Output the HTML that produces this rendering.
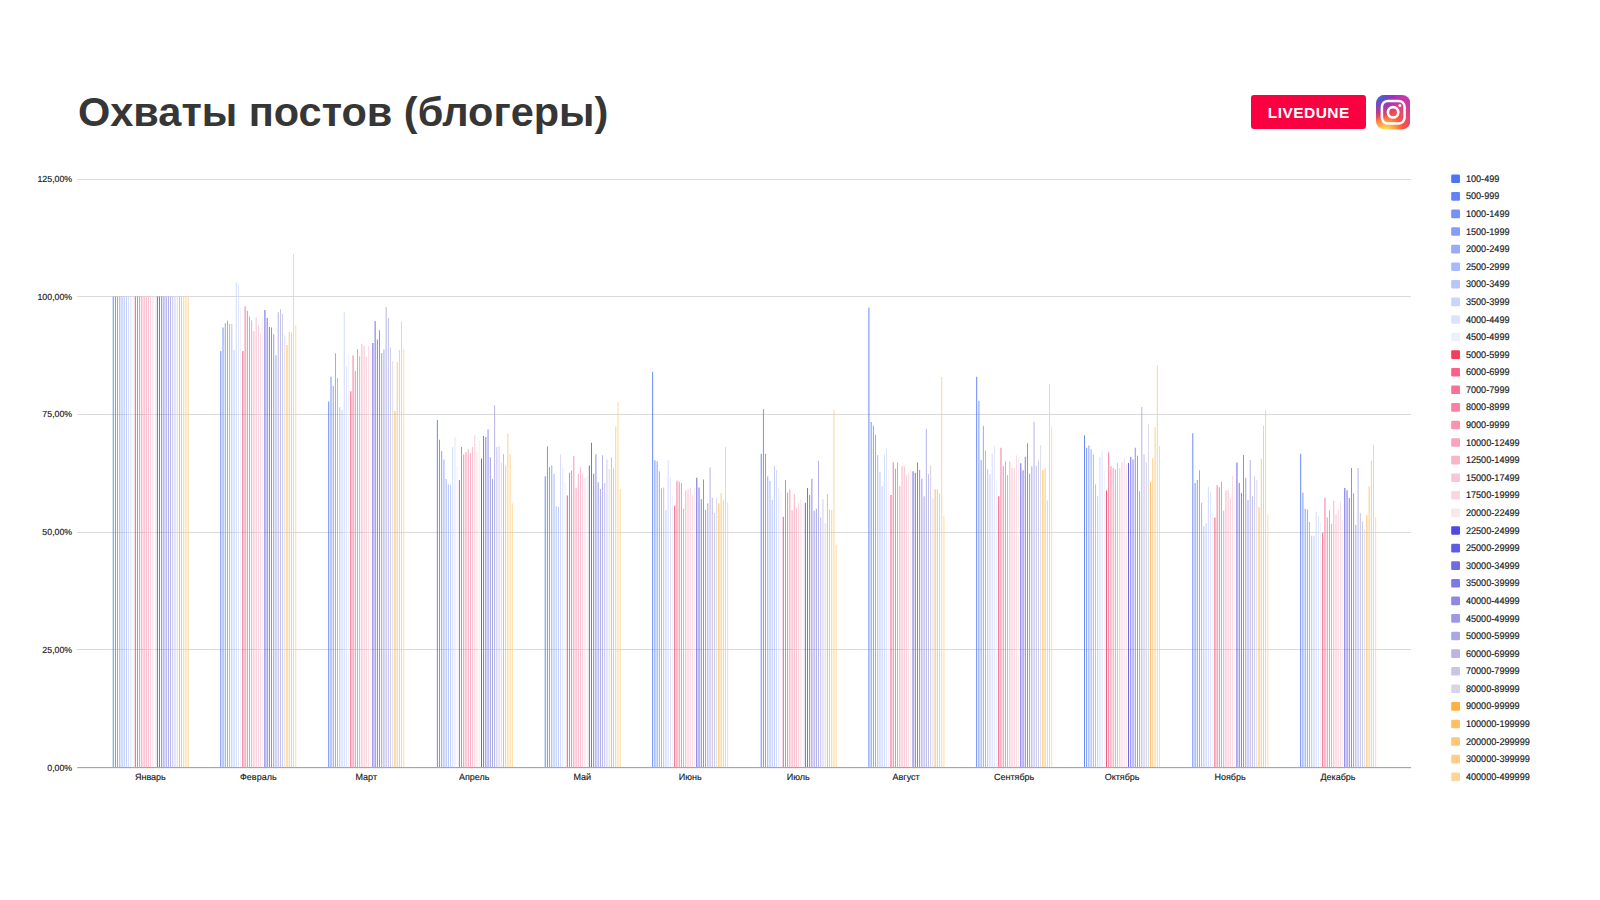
<!DOCTYPE html>
<html lang="ru"><head><meta charset="utf-8"><title>Охваты постов (блогеры)</title>
<style>
html,body{margin:0;padding:0;background:#fff;}
body{width:1600px;height:900px;position:relative;overflow:hidden;font-family:"Liberation Sans",Arial,sans-serif;}
h1{position:absolute;left:78px;top:86px;margin:0;font-family:"Liberation Sans",Arial,sans-serif;font-weight:700;font-size:41.5px;line-height:52px;color:#363636;white-space:nowrap;letter-spacing:0px;}
.badge{position:absolute;left:1251px;top:95.4px;width:115px;height:34px;background:#fa0041;border-radius:3px;color:#fff;font-family:"Liberation Sans",Arial,sans-serif;font-weight:700;font-size:15.5px;line-height:34px;text-align:center;letter-spacing:0.45px;padding-top:0.6px;padding-left:0.5px;box-sizing:border-box;}
.ig{position:absolute;left:1375.5px;top:95px;width:34.5px;height:34.5px;}
svg.chart{position:absolute;left:0;top:0;text-rendering:geometricPrecision;}
.yl{font-size:8.8px;fill:#1a1a1a;stroke:#1a1a1a;stroke-width:0.15px;text-anchor:end;font-family:"Liberation Sans",Arial,sans-serif;}
.xl{font-size:9px;fill:#1a1a1a;stroke:#1a1a1a;stroke-width:0.15px;text-anchor:middle;font-family:"Liberation Sans",Arial,sans-serif;}
.lg{font-size:9.15px;fill:#1a1a1a;stroke:#1a1a1a;stroke-width:0.15px;font-family:"Liberation Sans",Arial,sans-serif;}
</style></head>
<body>
<h1>Охваты постов (блогеры)</h1>
<div class="badge">LIVEDUNE</div>
<svg class="ig" viewBox="0 0 34.5 34.5" width="34.5" height="34.5">
<defs>
<radialGradient id="iga" cx="0.27" cy="1.08" r="1.05">
<stop offset="0" stop-color="#ffdd55"/>
<stop offset="0.1" stop-color="#ffdd55"/>
<stop offset="0.5" stop-color="#ff543e"/>
<stop offset="1" stop-color="#c837ab"/>
</radialGradient>
<radialGradient id="igb" cx="0.0" cy="0.0" r="0.75">
<stop offset="0" stop-color="#3771c8"/>
<stop offset="0.13" stop-color="#3771c8"/>
<stop offset="1" stop-color="#6600ff" stop-opacity="0"/>
</radialGradient>
</defs>
<rect x="0" y="0" width="34.5" height="34.5" rx="8.5" fill="url(#iga)"/>
<rect x="0" y="0" width="34.5" height="34.5" rx="8.5" fill="url(#igb)"/>
<rect x="5.9" y="5.9" width="22.7" height="22.7" rx="6" fill="none" stroke="#fff" stroke-width="2.5"/>
<circle cx="17.1" cy="17.3" r="5.2" fill="none" stroke="#fff" stroke-width="2.6"/>
<circle cx="23.9" cy="10.6" r="1.5" fill="#fff"/>
</svg>
<svg class="chart" width="1600" height="900" viewBox="0 0 1600 900">
<rect x="77.2" y="649" width="1333.8" height="1" fill="#dadada"/>
<rect x="77.2" y="532" width="1333.8" height="1" fill="#dadada"/>
<rect x="77.2" y="414" width="1333.8" height="1" fill="#dadada"/>
<rect x="77.2" y="296" width="1333.8" height="1" fill="#dadada"/>
<rect x="77.2" y="179" width="1333.8" height="1" fill="#dadada"/>
<text transform="translate(72.2 771) scale(1 1.0)" class="yl">0,00%</text>
<text transform="translate(72.2 652.9) scale(1 1.0)" class="yl">25,00%</text>
<text transform="translate(72.2 535) scale(1 1.0)" class="yl">50,00%</text>
<text transform="translate(72.2 417.3) scale(1 1.0)" class="yl">75,00%</text>
<text transform="translate(72.2 299.9) scale(1 1.0)" class="yl">100,00%</text>
<text transform="translate(72.2 182) scale(1 1.0)" class="yl">125,00%</text>
<g>
<path fill="#4d75f3" d="M112.77 296.5h0.85V767h-0.85zM220.39 350.9h0.85V767h-0.85zM328.36 401.6h0.85V767h-0.85zM436.88 420h0.85V767h-0.85zM544.76 476.3h0.85V767h-0.85zM652.28 371.7h0.85V767h-0.85zM760.75 453.8h0.85V767h-0.85zM868.51 307.8h0.85V767h-0.85zM976.29 376.7h0.85V767h-0.85zM1084.06 435.3h0.85V767h-0.85zM1192.42 433.3h0.85V767h-0.85zM1300.3 453.8h0.85V767h-0.85z"/>
<path fill="#6283f5" d="M114.98 296.5h0.85V767h-0.85zM222.6 327.6h0.85V767h-0.85zM330.57 376.7h0.85V767h-0.85zM439.09 439.7h0.85V767h-0.85zM546.96 446.3h0.85V767h-0.85zM654.48 460.3h0.85V767h-0.85zM762.95 409.2h0.85V767h-0.85zM870.72 422h0.85V767h-0.85zM978.49 400.8h0.85V767h-0.85zM1086.26 447.8h0.85V767h-0.85zM1194.63 483h0.85V767h-0.85zM1302.5 492.8h0.85V767h-0.85z"/>
<path fill="#7391f6" d="M117.19 296.5h0.85V767h-0.85zM224.81 323.3h0.85V767h-0.85zM332.78 385.9h0.85V767h-0.85zM441.3 450.9h0.85V767h-0.85zM549.17 467h0.85V767h-0.85zM656.69 461.2h0.85V767h-0.85zM765.16 453.8h0.85V767h-0.85zM872.93 425.8h0.85V767h-0.85zM980.7 460h0.85V767h-0.85zM1088.47 445.5h0.85V767h-0.85zM1196.84 480h0.85V767h-0.85zM1304.71 508.7h0.85V767h-0.85z"/>
<path fill="#849ef7" d="M119.39 296.5h0.85V767h-0.85zM227.01 320.4h0.85V767h-0.85zM334.98 353.2h0.85V767h-0.85zM443.5 459.6h0.85V767h-0.85zM551.37 465.4h0.85V767h-0.85zM658.89 471.2h0.85V767h-0.85zM767.36 476.3h0.85V767h-0.85zM875.13 434.7h0.85V767h-0.85zM982.9 425.8h0.85V767h-0.85zM1090.67 449.2h0.85V767h-0.85zM1199.04 470.3h0.85V767h-0.85zM1306.91 509.5h0.85V767h-0.85z"/>
<path fill="#96acf8" d="M121.6 296.5h0.85V767h-0.85zM229.22 324h0.85V767h-0.85zM337.19 378h0.85V767h-0.85zM445.71 478.9h0.85V767h-0.85zM553.58 473.7h0.85V767h-0.85zM661.1 488.3h0.85V767h-0.85zM769.57 480.8h0.85V767h-0.85zM877.34 455h0.85V767h-0.85zM985.11 450.8h0.85V767h-0.85zM1092.88 454.5h0.85V767h-0.85zM1201.25 502.8h0.85V767h-0.85zM1309.12 522h0.85V767h-0.85z"/>
<path fill="#a7baf9" d="M123.8 296.5h0.85V767h-0.85zM231.42 324h0.85V767h-0.85zM339.39 407.3h0.85V767h-0.85zM447.91 484.2h0.85V767h-0.85zM555.79 506.3h0.85V767h-0.85zM663.31 487.5h0.85V767h-0.85zM771.77 500h0.85V767h-0.85zM879.54 472h0.85V767h-0.85zM987.32 469.2h0.85V767h-0.85zM1095.09 484.2h0.85V767h-0.85zM1203.45 526.2h0.85V767h-0.85zM1311.33 535.8h0.85V767h-0.85z"/>
<path fill="#b8c7fa" d="M126.01 296.5h0.85V767h-0.85zM233.63 349.9h0.85V767h-0.85zM341.6 409.8h0.85V767h-0.85zM450.12 485h0.85V767h-0.85zM557.99 507h0.85V767h-0.85zM665.51 510h0.85V767h-0.85zM773.98 465.8h0.85V767h-0.85zM881.75 486.2h0.85V767h-0.85zM989.52 474.2h0.85V767h-0.85zM1097.29 496.2h0.85V767h-0.85zM1205.66 523.3h0.85V767h-0.85zM1313.53 535.8h0.85V767h-0.85z"/>
<path fill="#cad5fb" d="M128.22 296.5h0.85V767h-0.85zM235.84 282.3h0.85V767h-0.85zM343.81 312h0.85V767h-0.85zM452.33 446.9h0.85V767h-0.85zM560.2 454.6h0.85V767h-0.85zM667.72 460.3h0.85V767h-0.85zM776.19 470h0.85V767h-0.85zM883.96 454.5h0.85V767h-0.85zM991.73 453.8h0.85V767h-0.85zM1099.5 457.2h0.85V767h-0.85zM1207.87 486.7h0.85V767h-0.85zM1315.74 512h0.85V767h-0.85z"/>
<path fill="#dbe2fc" d="M130.42 296.5h0.85V767h-0.85zM238.04 284.3h0.85V767h-0.85zM346.01 366.5h0.85V767h-0.85zM454.53 437h0.85V767h-0.85zM562.4 468.3h0.85V767h-0.85zM669.92 477.5h0.85V767h-0.85zM778.39 487.5h0.85V767h-0.85zM886.16 448h0.85V767h-0.85zM993.93 445.8h0.85V767h-0.85zM1101.7 451.2h0.85V767h-0.85zM1210.07 492.5h0.85V767h-0.85zM1317.94 515.5h0.85V767h-0.85z"/>
<path fill="#ecf0fd" d="M132.63 296.5h0.85V767h-0.85zM240.25 307.6h0.85V767h-0.85zM348.22 353.2h0.85V767h-0.85zM456.74 466.6h0.85V767h-0.85zM564.61 482.3h0.85V767h-0.85zM672.13 496.7h0.85V767h-0.85zM780.6 492.5h0.85V767h-0.85zM888.37 470.8h0.85V767h-0.85zM996.14 480.8h0.85V767h-0.85zM1103.91 470.5h0.85V767h-0.85zM1212.28 509.2h0.85V767h-0.85zM1320.15 522.8h0.85V767h-0.85z"/>
<path fill="#f43d5e" d="M134.83 296.5h0.85V767h-0.85zM242.45 350.9h0.85V767h-0.85zM350.42 391.2h0.85V767h-0.85zM458.94 480h0.85V767h-0.85zM566.82 495.6h0.85V767h-0.85zM674.34 505.8h0.85V767h-0.85zM782.8 516.7h0.85V767h-0.85zM890.57 495h0.85V767h-0.85zM998.35 496.2h0.85V767h-0.85zM1106.12 490.5h0.85V767h-0.85zM1214.48 517.5h0.85V767h-0.85zM1322.36 532.8h0.85V767h-0.85z"/>
<path fill="#f9608b" d="M137.04 296.5h0.85V767h-0.85zM244.66 306.3h0.85V767h-0.85zM352.63 355.4h0.85V767h-0.85zM461.15 446.9h0.85V767h-0.85zM569.02 472.7h0.85V767h-0.85zM676.54 480.8h0.85V767h-0.85zM785.01 480h0.85V767h-0.85zM892.78 462.5h0.85V767h-0.85zM1000.55 447.8h0.85V767h-0.85zM1108.32 452.2h0.85V767h-0.85zM1216.69 485.3h0.85V767h-0.85zM1324.56 497.8h0.85V767h-0.85z"/>
<path fill="#f97197" d="M139.25 296.5h0.85V767h-0.85zM246.87 310.7h0.85V767h-0.85zM354.84 371h0.85V767h-0.85zM463.36 454.4h0.85V767h-0.85zM571.23 470.6h0.85V767h-0.85zM678.75 481.7h0.85V767h-0.85zM787.22 492.5h0.85V767h-0.85zM894.99 468.8h0.85V767h-0.85zM1002.76 466.2h0.85V767h-0.85zM1110.53 466.2h0.85V767h-0.85zM1218.9 487.2h0.85V767h-0.85zM1326.77 517.5h0.85V767h-0.85z"/>
<path fill="#f982a3" d="M141.45 296.5h0.85V767h-0.85zM249.07 316.5h0.85V767h-0.85zM357.04 349h0.85V767h-0.85zM465.56 452.2h0.85V767h-0.85zM573.43 455.9h0.85V767h-0.85zM680.95 483h0.85V767h-0.85zM789.42 489.2h0.85V767h-0.85zM897.19 462.5h0.85V767h-0.85zM1004.96 461.2h0.85V767h-0.85zM1112.73 468h0.85V767h-0.85zM1221.1 481.7h0.85V767h-0.85zM1328.97 510.3h0.85V767h-0.85z"/>
<path fill="#f993af" d="M143.66 296.5h0.85V767h-0.85zM251.28 320.3h0.85V767h-0.85zM359.25 356.3h0.85V767h-0.85zM467.77 449.3h0.85V767h-0.85zM575.64 487.9h0.85V767h-0.85zM683.16 508.7h0.85V767h-0.85zM791.63 510h0.85V767h-0.85zM899.4 486.2h0.85V767h-0.85zM1007.17 475h0.85V767h-0.85zM1114.94 469.2h0.85V767h-0.85zM1223.31 510.8h0.85V767h-0.85zM1331.18 523.7h0.85V767h-0.85z"/>
<path fill="#f8a4bc" d="M145.86 296.5h0.85V767h-0.85zM253.48 331.3h0.85V767h-0.85zM361.45 343.9h0.85V767h-0.85zM469.97 453h0.85V767h-0.85zM577.85 474h0.85V767h-0.85zM685.37 490.3h0.85V767h-0.85zM793.84 494.2h0.85V767h-0.85zM901.61 466.2h0.85V767h-0.85zM1009.38 461.2h0.85V767h-0.85zM1117.14 463h0.85V767h-0.85zM1225.51 490.5h0.85V767h-0.85zM1333.38 500.8h0.85V767h-0.85z"/>
<path fill="#f8b5c8" d="M148.07 296.5h0.85V767h-0.85zM255.69 317.3h0.85V767h-0.85zM363.66 346h0.85V767h-0.85zM472.18 446.9h0.85V767h-0.85zM580.05 467h0.85V767h-0.85zM687.57 489.2h0.85V767h-0.85zM796.04 508h0.85V767h-0.85zM903.81 466.2h0.85V767h-0.85zM1011.58 468h0.85V767h-0.85zM1119.35 468.3h0.85V767h-0.85zM1227.72 489.7h0.85V767h-0.85zM1335.59 514.2h0.85V767h-0.85z"/>
<path fill="#f8c6d4" d="M150.28 296.5h0.85V767h-0.85zM257.9 324.7h0.85V767h-0.85zM365.87 356.7h0.85V767h-0.85zM474.39 435.3h0.85V767h-0.85zM582.26 473.4h0.85V767h-0.85zM689.78 488h0.85V767h-0.85zM798.25 502.8h0.85V767h-0.85zM906.02 475h0.85V767h-0.85zM1013.79 468h0.85V767h-0.85zM1121.56 462h0.85V767h-0.85zM1229.93 498h0.85V767h-0.85zM1337.8 509.5h0.85V767h-0.85z"/>
<path fill="#f8d7e0" d="M152.48 296.5h0.85V767h-0.85zM260.1 333.3h0.85V767h-0.85zM368.07 346h0.85V767h-0.85zM476.59 452.4h0.85V767h-0.85zM584.46 477.9h0.85V767h-0.85zM691.98 495h0.85V767h-0.85zM800.45 499.2h0.85V767h-0.85zM908.22 472.5h0.85V767h-0.85zM1015.99 455.3h0.85V767h-0.85zM1123.76 458.3h0.85V767h-0.85zM1232.13 475.8h0.85V767h-0.85zM1340 501.7h0.85V767h-0.85z"/>
<path fill="#f8e8ec" d="M154.69 296.5h0.85V767h-0.85zM262.31 317.6h0.85V767h-0.85zM370.28 350.3h0.85V767h-0.85zM478.8 440.6h0.85V767h-0.85zM586.67 476.3h0.85V767h-0.85zM694.19 487.5h0.85V767h-0.85zM802.66 500.8h0.85V767h-0.85zM910.43 469.2h0.85V767h-0.85zM1018.2 457.5h0.85V767h-0.85zM1125.97 464.2h0.85V767h-0.85zM1234.34 486.7h0.85V767h-0.85zM1342.21 520h0.85V767h-0.85z"/>
<path fill="#4f49e2" d="M156.89 296.5h0.85V767h-0.85zM264.51 310h0.85V767h-0.85zM372.48 343h0.85V767h-0.85zM481 458.6h0.85V767h-0.85zM588.88 465.6h0.85V767h-0.85zM696.4 477.8h0.85V767h-0.85zM804.87 502.8h0.85V767h-0.85zM912.63 471.3h0.85V767h-0.85zM1020.41 463.3h0.85V767h-0.85zM1128.17 463h0.85V767h-0.85zM1236.54 462.5h0.85V767h-0.85zM1344.41 488h0.85V767h-0.85z"/>
<path fill="#615be3" d="M159.1 296.5h0.85V767h-0.85zM266.72 318h0.85V767h-0.85zM374.69 321h0.85V767h-0.85zM483.21 436h0.85V767h-0.85zM591.08 442.7h0.85V767h-0.85zM698.6 487.5h0.85V767h-0.85zM807.07 488h0.85V767h-0.85zM914.84 472.8h0.85V767h-0.85zM1022.61 470.3h0.85V767h-0.85zM1130.38 456.7h0.85V767h-0.85zM1238.75 483h0.85V767h-0.85zM1346.62 490.3h0.85V767h-0.85z"/>
<path fill="#706ae3" d="M161.31 296.5h0.85V767h-0.85zM268.93 326.9h0.85V767h-0.85zM376.9 339.4h0.85V767h-0.85zM485.42 436.9h0.85V767h-0.85zM593.29 473.7h0.85V767h-0.85zM700.81 499.2h0.85V767h-0.85zM809.28 495h0.85V767h-0.85zM917.05 462.5h0.85V767h-0.85zM1024.82 456.7h0.85V767h-0.85zM1132.59 459.5h0.85V767h-0.85zM1240.96 493h0.85V767h-0.85zM1348.83 498h0.85V767h-0.85z"/>
<path fill="#7e7ae4" d="M163.51 296.5h0.85V767h-0.85zM271.13 327.6h0.85V767h-0.85zM379.1 330.3h0.85V767h-0.85zM487.62 429.6h0.85V767h-0.85zM595.49 454.3h0.85V767h-0.85zM703.01 479.5h0.85V767h-0.85zM811.48 478.8h0.85V767h-0.85zM919.25 470h0.85V767h-0.85zM1027.02 443.3h0.85V767h-0.85zM1134.79 447.8h0.85V767h-0.85zM1243.16 455h0.85V767h-0.85zM1351.03 468h0.85V767h-0.85z"/>
<path fill="#8d89e4" d="M165.72 296.5h0.85V767h-0.85zM273.34 334.3h0.85V767h-0.85zM381.31 353h0.85V767h-0.85zM489.83 457.3h0.85V767h-0.85zM597.7 482.3h0.85V767h-0.85zM705.22 510h0.85V767h-0.85zM813.69 510.8h0.85V767h-0.85zM921.46 478.7h0.85V767h-0.85zM1029.23 473.7h0.85V767h-0.85zM1137 455.8h0.85V767h-0.85zM1245.37 477.8h0.85V767h-0.85zM1353.24 493.3h0.85V767h-0.85z"/>
<path fill="#9c98e4" d="M167.92 296.5h0.85V767h-0.85zM275.54 355.3h0.85V767h-0.85zM383.51 349.6h0.85V767h-0.85zM492.03 478.9h0.85V767h-0.85zM599.91 489h0.85V767h-0.85zM707.43 503.3h0.85V767h-0.85zM815.89 508.7h0.85V767h-0.85zM923.66 496.2h0.85V767h-0.85zM1031.43 466.2h0.85V767h-0.85zM1139.21 491.2h0.85V767h-0.85zM1247.58 500h0.85V767h-0.85zM1355.45 525h0.85V767h-0.85z"/>
<path fill="#aaa7e5" d="M170.13 296.5h0.85V767h-0.85zM277.75 312.3h0.85V767h-0.85zM385.72 307h0.85V767h-0.85zM494.24 405.3h0.85V767h-0.85zM602.11 455.3h0.85V767h-0.85zM709.63 467.5h0.85V767h-0.85zM818.1 460.8h0.85V767h-0.85zM925.87 428.8h0.85V767h-0.85zM1033.64 421.7h0.85V767h-0.85zM1141.41 407h0.85V767h-0.85zM1249.78 460h0.85V767h-0.85zM1357.65 468h0.85V767h-0.85z"/>
<path fill="#b9b6e5" d="M172.34 296.5h0.85V767h-0.85zM279.96 309.3h0.85V767h-0.85zM387.93 318h0.85V767h-0.85zM496.45 446.9h0.85V767h-0.85zM604.32 483h0.85V767h-0.85zM711.84 497.8h0.85V767h-0.85zM820.31 517.5h0.85V767h-0.85zM928.08 474.2h0.85V767h-0.85zM1035.85 465.8h0.85V767h-0.85zM1143.62 454.2h0.85V767h-0.85zM1251.99 496.2h0.85V767h-0.85zM1359.86 513h0.85V767h-0.85z"/>
<path fill="#c7c6e6" d="M174.54 296.5h0.85V767h-0.85zM282.16 313.7h0.85V767h-0.85zM390.13 347.4h0.85V767h-0.85zM498.65 446.2h0.85V767h-0.85zM606.52 459.4h0.85V767h-0.85zM714.04 513h0.85V767h-0.85zM822.51 499.2h0.85V767h-0.85zM930.28 465.5h0.85V767h-0.85zM1038.05 460.8h0.85V767h-0.85zM1145.82 462.5h0.85V767h-0.85zM1254.19 476.3h0.85V767h-0.85zM1362.06 521.2h0.85V767h-0.85z"/>
<path fill="#d6d5e6" d="M176.75 296.5h0.85V767h-0.85zM284.37 335.6h0.85V767h-0.85zM392.34 361.2h0.85V767h-0.85zM500.86 462.6h0.85V767h-0.85zM608.73 469h0.85V767h-0.85zM716.25 497.8h0.85V767h-0.85zM824.72 523.3h0.85V767h-0.85zM932.49 498.3h0.85V767h-0.85zM1040.26 445h0.85V767h-0.85zM1148.03 424.2h0.85V767h-0.85zM1256.4 480h0.85V767h-0.85zM1364.27 529.5h0.85V767h-0.85z"/>
<path fill="#feb040" d="M178.95 296.5h0.85V767h-0.85zM286.57 344.9h0.85V767h-0.85zM394.54 410.9h0.85V767h-0.85zM503.06 454h0.85V767h-0.85zM610.94 457.3h0.85V767h-0.85zM718.46 503.3h0.85V767h-0.85zM826.92 494.2h0.85V767h-0.85zM934.69 489.2h0.85V767h-0.85zM1042.46 469.7h0.85V767h-0.85zM1150.24 481.7h0.85V767h-0.85zM1258.61 507.2h0.85V767h-0.85zM1366.48 515.3h0.85V767h-0.85z"/>
<path fill="#ffc064" d="M181.16 296.5h0.85V767h-0.85zM288.78 332h0.85V767h-0.85zM396.75 362h0.85V767h-0.85zM505.27 465.5h0.85V767h-0.85zM613.14 468.3h0.85V767h-0.85zM720.66 493.3h0.85V767h-0.85zM829.13 509.2h0.85V767h-0.85zM936.9 489.2h0.85V767h-0.85zM1044.67 468.3h0.85V767h-0.85zM1152.44 458.3h0.85V767h-0.85zM1260.81 458.7h0.85V767h-0.85zM1368.68 486.2h0.85V767h-0.85z"/>
<path fill="#ffc775" d="M183.37 296.5h0.85V767h-0.85zM290.99 332.5h0.85V767h-0.85zM398.96 350h0.85V767h-0.85zM507.48 433.7h0.85V767h-0.85zM615.35 426.6h0.85V767h-0.85zM722.87 500.3h0.85V767h-0.85zM831.34 510h0.85V767h-0.85zM939.11 493.8h0.85V767h-0.85zM1046.88 500.5h0.85V767h-0.85zM1154.65 427.2h0.85V767h-0.85zM1263.02 425.8h0.85V767h-0.85zM1370.89 460.8h0.85V767h-0.85z"/>
<path fill="#fece85" d="M185.57 296.5h0.85V767h-0.85zM293.19 254.3h0.85V767h-0.85zM401.16 321.6h0.85V767h-0.85zM509.68 454.2h0.85V767h-0.85zM617.55 402.3h0.85V767h-0.85zM725.07 447h0.85V767h-0.85zM833.54 409.7h0.85V767h-0.85zM941.31 377h0.85V767h-0.85zM1049.08 383.8h0.85V767h-0.85zM1156.85 365h0.85V767h-0.85zM1265.22 410.3h0.85V767h-0.85zM1373.09 444.7h0.85V767h-0.85z"/>
<path fill="#fed596" d="M187.78 296.5h0.85V767h-0.85zM295.4 325.3h0.85V767h-0.85zM403.37 348.7h0.85V767h-0.85zM511.89 503h0.85V767h-0.85zM619.76 489h0.85V767h-0.85zM727.28 502.2h0.85V767h-0.85zM835.75 545.8h0.85V767h-0.85zM943.52 515.8h0.85V767h-0.85zM1051.29 426.7h0.85V767h-0.85zM1159.06 446.2h0.85V767h-0.85zM1267.43 514.2h0.85V767h-0.85zM1375.3 517h0.85V767h-0.85z"/>
</g>
<rect x="77.2" y="767" width="1333.8" height="1" fill="#a6a6a6"/>
<rect x="77.2" y="768" width="1333.8" height="1" fill="#efefef"/>
<text x="150.35" y="780.3" class="xl">Январь</text>
<text x="258.32" y="780.3" class="xl">Февраль</text>
<text x="366.29" y="780.3" class="xl">Март</text>
<text x="474.26" y="780.3" class="xl">Апрель</text>
<text x="582.23" y="780.3" class="xl">Май</text>
<text x="690.2" y="780.3" class="xl">Июнь</text>
<text x="798.17" y="780.3" class="xl">Июль</text>
<text x="906.14" y="780.3" class="xl">Август</text>
<text x="1014.11" y="780.3" class="xl">Сентябрь</text>
<text x="1122.08" y="780.3" class="xl">Октябрь</text>
<text x="1230.05" y="780.3" class="xl">Ноябрь</text>
<text x="1338.02" y="780.3" class="xl">Декабрь</text>
<rect x="1451.2" y="174.45" width="8.8" height="8.6" rx="1.2" fill="#4d75f3"/>
<text transform="translate(1465.9 181.85) scale(1 1.05)" class="lg">100-499</text>
<rect x="1451.2" y="192.04" width="8.8" height="8.6" rx="1.2" fill="#6283f5"/>
<text transform="translate(1465.9 199.44) scale(1 1.05)" class="lg">500-999</text>
<rect x="1451.2" y="209.62" width="8.8" height="8.6" rx="1.2" fill="#7391f6"/>
<text transform="translate(1465.9 217.02) scale(1 1.05)" class="lg">1000-1499</text>
<rect x="1451.2" y="227.21" width="8.8" height="8.6" rx="1.2" fill="#849ef7"/>
<text transform="translate(1465.9 234.61) scale(1 1.05)" class="lg">1500-1999</text>
<rect x="1451.2" y="244.8" width="8.8" height="8.6" rx="1.2" fill="#96acf8"/>
<text transform="translate(1465.9 252.2) scale(1 1.05)" class="lg">2000-2499</text>
<rect x="1451.2" y="262.38" width="8.8" height="8.6" rx="1.2" fill="#a7baf9"/>
<text transform="translate(1465.9 269.79) scale(1 1.05)" class="lg">2500-2999</text>
<rect x="1451.2" y="279.97" width="8.8" height="8.6" rx="1.2" fill="#b8c7fa"/>
<text transform="translate(1465.9 287.37) scale(1 1.05)" class="lg">3000-3499</text>
<rect x="1451.2" y="297.56" width="8.8" height="8.6" rx="1.2" fill="#cad5fb"/>
<text transform="translate(1465.9 304.96) scale(1 1.05)" class="lg">3500-3999</text>
<rect x="1451.2" y="315.15" width="8.8" height="8.6" rx="1.2" fill="#dbe2fc"/>
<text transform="translate(1465.9 322.55) scale(1 1.05)" class="lg">4000-4499</text>
<rect x="1451.2" y="332.73" width="8.8" height="8.6" rx="1.2" fill="#ecf0fd"/>
<text transform="translate(1465.9 340.13) scale(1 1.05)" class="lg">4500-4999</text>
<rect x="1451.2" y="350.32" width="8.8" height="8.6" rx="1.2" fill="#f43d5e"/>
<text transform="translate(1465.9 357.72) scale(1 1.05)" class="lg">5000-5999</text>
<rect x="1451.2" y="367.91" width="8.8" height="8.6" rx="1.2" fill="#f9608b"/>
<text transform="translate(1465.9 375.31) scale(1 1.05)" class="lg">6000-6999</text>
<rect x="1451.2" y="385.49" width="8.8" height="8.6" rx="1.2" fill="#f97197"/>
<text transform="translate(1465.9 392.89) scale(1 1.05)" class="lg">7000-7999</text>
<rect x="1451.2" y="403.08" width="8.8" height="8.6" rx="1.2" fill="#f982a3"/>
<text transform="translate(1465.9 410.48) scale(1 1.05)" class="lg">8000-8999</text>
<rect x="1451.2" y="420.67" width="8.8" height="8.6" rx="1.2" fill="#f993af"/>
<text transform="translate(1465.9 428.07) scale(1 1.05)" class="lg">9000-9999</text>
<rect x="1451.2" y="438.25" width="8.8" height="8.6" rx="1.2" fill="#f8a4bc"/>
<text transform="translate(1465.9 445.66) scale(1 1.05)" class="lg">10000-12499</text>
<rect x="1451.2" y="455.84" width="8.8" height="8.6" rx="1.2" fill="#f8b5c8"/>
<text transform="translate(1465.9 463.24) scale(1 1.05)" class="lg">12500-14999</text>
<rect x="1451.2" y="473.43" width="8.8" height="8.6" rx="1.2" fill="#f8c6d4"/>
<text transform="translate(1465.9 480.83) scale(1 1.05)" class="lg">15000-17499</text>
<rect x="1451.2" y="491.02" width="8.8" height="8.6" rx="1.2" fill="#f8d7e0"/>
<text transform="translate(1465.9 498.42) scale(1 1.05)" class="lg">17500-19999</text>
<rect x="1451.2" y="508.6" width="8.8" height="8.6" rx="1.2" fill="#f8e8ec"/>
<text transform="translate(1465.9 516) scale(1 1.05)" class="lg">20000-22499</text>
<rect x="1451.2" y="526.19" width="8.8" height="8.6" rx="1.2" fill="#4f49e2"/>
<text transform="translate(1465.9 533.59) scale(1 1.05)" class="lg">22500-24999</text>
<rect x="1451.2" y="543.78" width="8.8" height="8.6" rx="1.2" fill="#615be3"/>
<text transform="translate(1465.9 551.18) scale(1 1.05)" class="lg">25000-29999</text>
<rect x="1451.2" y="561.36" width="8.8" height="8.6" rx="1.2" fill="#706ae3"/>
<text transform="translate(1465.9 568.76) scale(1 1.05)" class="lg">30000-34999</text>
<rect x="1451.2" y="578.95" width="8.8" height="8.6" rx="1.2" fill="#7e7ae4"/>
<text transform="translate(1465.9 586.35) scale(1 1.05)" class="lg">35000-39999</text>
<rect x="1451.2" y="596.54" width="8.8" height="8.6" rx="1.2" fill="#8d89e4"/>
<text transform="translate(1465.9 603.94) scale(1 1.05)" class="lg">40000-44999</text>
<rect x="1451.2" y="614.12" width="8.8" height="8.6" rx="1.2" fill="#9c98e4"/>
<text transform="translate(1465.9 621.52) scale(1 1.05)" class="lg">45000-49999</text>
<rect x="1451.2" y="631.71" width="8.8" height="8.6" rx="1.2" fill="#aaa7e5"/>
<text transform="translate(1465.9 639.11) scale(1 1.05)" class="lg">50000-59999</text>
<rect x="1451.2" y="649.3" width="8.8" height="8.6" rx="1.2" fill="#b9b6e5"/>
<text transform="translate(1465.9 656.7) scale(1 1.05)" class="lg">60000-69999</text>
<rect x="1451.2" y="666.89" width="8.8" height="8.6" rx="1.2" fill="#c7c6e6"/>
<text transform="translate(1465.9 674.29) scale(1 1.05)" class="lg">70000-79999</text>
<rect x="1451.2" y="684.47" width="8.8" height="8.6" rx="1.2" fill="#d6d5e6"/>
<text transform="translate(1465.9 691.87) scale(1 1.05)" class="lg">80000-89999</text>
<rect x="1451.2" y="702.06" width="8.8" height="8.6" rx="1.2" fill="#feb040"/>
<text transform="translate(1465.9 709.46) scale(1 1.05)" class="lg">90000-99999</text>
<rect x="1451.2" y="719.65" width="8.8" height="8.6" rx="1.2" fill="#ffc064"/>
<text transform="translate(1465.9 727.05) scale(1 1.05)" class="lg">100000-199999</text>
<rect x="1451.2" y="737.23" width="8.8" height="8.6" rx="1.2" fill="#ffc775"/>
<text transform="translate(1465.9 744.63) scale(1 1.05)" class="lg">200000-299999</text>
<rect x="1451.2" y="754.82" width="8.8" height="8.6" rx="1.2" fill="#fece85"/>
<text transform="translate(1465.9 762.22) scale(1 1.05)" class="lg">300000-399999</text>
<rect x="1451.2" y="772.41" width="8.8" height="8.6" rx="1.2" fill="#fed596"/>
<text transform="translate(1465.9 779.81) scale(1 1.05)" class="lg">400000-499999</text>
</svg>
</body></html>
